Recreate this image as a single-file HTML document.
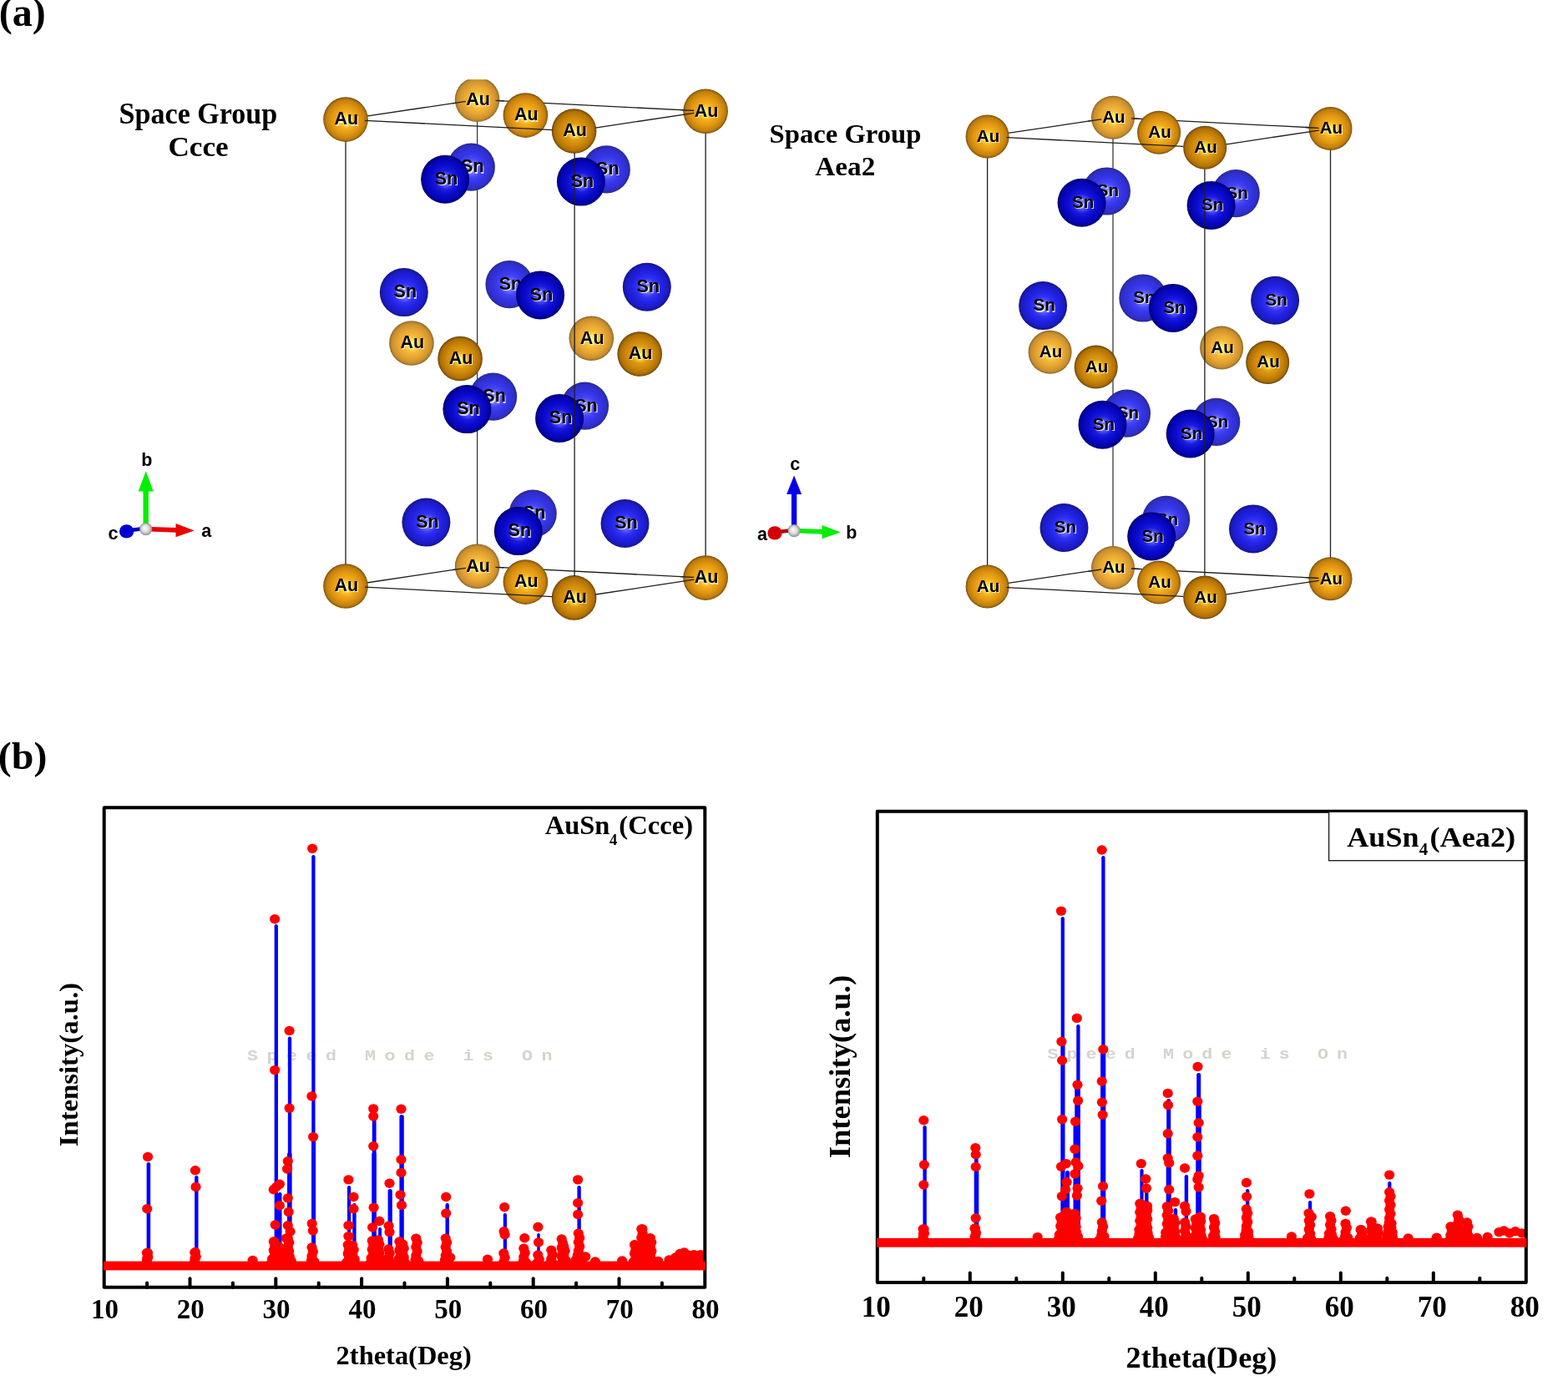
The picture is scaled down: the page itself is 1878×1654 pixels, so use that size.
<!DOCTYPE html>
<html lang="en"><head><meta charset="utf-8"><title>AuSn4 crystal structures and XRD patterns</title>
<style>html,body{margin:0;padding:0;background:#fff}body{width:1878px;height:1654px;overflow:hidden}svg{display:block}
.sb{font-family:"Liberation Serif", serif;font-weight:700;fill:#000}
.al{font-family:"Liberation Sans", sans-serif;font-weight:700;text-anchor:middle}
.gl{font-family:"Liberation Sans", sans-serif;font-weight:700;font-size:21.5px;text-anchor:middle;fill:#000}
</style></head><body>
<svg width="1878" height="1654" viewBox="0 0 1878 1654" role="img" aria-label="AuSn4 crystal structures (Ccce, Aea2) and simulated XRD patterns">
<defs><radialGradient id="aun" cx="0.5" cy="0.5" r="0.5" fx="0.52" fy="0.53"><stop offset="0" stop-color="#fffc78"/><stop offset="0.18" stop-color="#ffdc3c"/><stop offset="0.38" stop-color="#de9b14"/><stop offset="0.64" stop-color="#cc8709"/><stop offset="0.88" stop-color="#af6f05"/><stop offset="0.955" stop-color="#8a5704"/><stop offset="1" stop-color="#5b3a02"/></radialGradient><radialGradient id="snn" cx="0.5" cy="0.5" r="0.5" fx="0.52" fy="0.53"><stop offset="0" stop-color="#aaaaff"/><stop offset="0.18" stop-color="#6060ff"/><stop offset="0.4" stop-color="#1b1be0"/><stop offset="0.62" stop-color="#0b0bce"/><stop offset="0.86" stop-color="#0404b1"/><stop offset="0.955" stop-color="#00008e"/><stop offset="1" stop-color="#00005b"/></radialGradient><radialGradient id="aum" cx="0.5" cy="0.5" r="0.5" fx="0.52" fy="0.53"><stop offset="0" stop-color="#fffc7c"/><stop offset="0.18" stop-color="#ffdd42"/><stop offset="0.38" stop-color="#f4ad1d"/><stop offset="0.64" stop-color="#e19711"/><stop offset="0.88" stop-color="#c27e0d"/><stop offset="0.955" stop-color="#9b650c"/><stop offset="1" stop-color="#69460a"/></radialGradient><radialGradient id="snm" cx="0.5" cy="0.5" r="0.5" fx="0.52" fy="0.53"><stop offset="0" stop-color="#b2b2ff"/><stop offset="0.18" stop-color="#6e6eff"/><stop offset="0.4" stop-color="#3232f7"/><stop offset="0.62" stop-color="#2222e5"/><stop offset="0.86" stop-color="#1b1bc7"/><stop offset="0.955" stop-color="#1717a5"/><stop offset="1" stop-color="#171772"/></radialGradient><radialGradient id="auf" cx="0.5" cy="0.5" r="0.5" fx="0.52" fy="0.53"><stop offset="0" stop-color="#fffc8e"/><stop offset="0.18" stop-color="#ffe25b"/><stop offset="0.38" stop-color="#f6b83b"/><stop offset="0.64" stop-color="#e5a531"/><stop offset="0.88" stop-color="#ca8f2e"/><stop offset="0.955" stop-color="#a8792c"/><stop offset="1" stop-color="#7d5f2a"/></radialGradient><radialGradient id="snf" cx="0.5" cy="0.5" r="0.5" fx="0.52" fy="0.53"><stop offset="0" stop-color="#b8b8ff"/><stop offset="0.18" stop-color="#7b7bff"/><stop offset="0.4" stop-color="#4444f8"/><stop offset="0.62" stop-color="#3535e7"/><stop offset="0.86" stop-color="#2f2fcc"/><stop offset="0.955" stop-color="#2b2bad"/><stop offset="1" stop-color="#2b2b7e"/></radialGradient><radialGradient id="gy" cx="0.5" cy="0.5" r="0.5" fx="0.4" fy="0.4"><stop offset="0" stop-color="#ffffff"/><stop offset="0.6" stop-color="#d8d8d8"/><stop offset="1" stop-color="#8c8c8c"/></radialGradient></defs>
<rect width="1878" height="1654" fill="#fff"/>
<text x="-1.2" y="31.1" class="sb" font-size="48">(a)</text>
<text x="-2.2" y="921" class="sb" font-size="46.4" textLength="58.6" lengthAdjust="spacingAndGlyphs">(b)</text>
<text x="142.6" y="147.7" class="sb" font-size="34.8" textLength="189.6" lengthAdjust="spacingAndGlyphs">Space Group</text>
<text x="201.4" y="186.6" class="sb" font-size="34.4" textLength="72.3" lengthAdjust="spacingAndGlyphs">Ccce</text>
<text x="921.6" y="170.6" class="sb" font-size="32.5" textLength="181.8" lengthAdjust="spacingAndGlyphs">Space Group</text>
<text x="976.3" y="209.6" class="sb" font-size="32.5" textLength="72" lengthAdjust="spacingAndGlyphs">Aea2</text>
<clipPath id="clipL"><rect x="100" y="95.3" width="800" height="660"/></clipPath>
<g id="cell-ccce" clip-path="url(#clipL)"><line x1="571.6" y1="139.3" x2="571.6" y2="658.2" stroke="#3a3a3a" stroke-width="1.3"/><line x1="439.0" y1="139.1" x2="571.6" y2="119.3" stroke="#1e1e1e" stroke-width="1.3"/><line x1="571.6" y1="119.3" x2="845.1" y2="133.2" stroke="#1e1e1e" stroke-width="1.3"/><line x1="439.0" y1="698.0" x2="571.6" y2="678.2" stroke="#1e1e1e" stroke-width="1.3"/><line x1="571.6" y1="678.2" x2="845.1" y2="692.1" stroke="#1e1e1e" stroke-width="1.3"/><line x1="414.0" y1="163.1" x2="414.0" y2="682.0" stroke="#1e1e1e" stroke-width="1.3"/><line x1="845.1" y1="153.2" x2="845.1" y2="672.1" stroke="#1e1e1e" stroke-width="1.3"/><circle cx="571.6" cy="119.3" r="26.8" fill="url(#auf)"/><text x="573.6" y="126.7" class="al" font-size="21.5" fill="#fff" fill-opacity="0.8">Au</text><text x="572.5" y="125.6" class="al" font-size="21.5">Au</text><circle cx="571.6" cy="678.2" r="26.8" fill="url(#auf)"/><text x="573.6" y="685.6" class="al" font-size="21.5" fill="#fff" fill-opacity="0.8">Au</text><text x="572.5" y="684.5" class="al" font-size="21.5">Au</text><circle cx="564.3" cy="200.1" r="28.6" fill="url(#snf)"/><text x="566.9" y="207.5" class="al" font-size="21.5" fill="#fff" fill-opacity="0.8">Sn</text><text x="565.8" y="206.4" class="al" font-size="21.5">Sn</text><circle cx="726.3" cy="202.9" r="28.6" fill="url(#snf)"/><text x="728.9" y="210.3" class="al" font-size="21.5" fill="#fff" fill-opacity="0.8">Sn</text><text x="727.8" y="209.2" class="al" font-size="21.5">Sn</text><circle cx="610.0" cy="340.6" r="28.6" fill="url(#snf)"/><text x="612.6" y="348.0" class="al" font-size="21.5" fill="#fff" fill-opacity="0.8">Sn</text><text x="611.5" y="346.9" class="al" font-size="21.5">Sn</text><circle cx="590.6" cy="475.1" r="28.6" fill="url(#snf)"/><text x="593.2" y="482.5" class="al" font-size="21.5" fill="#fff" fill-opacity="0.8">Sn</text><text x="592.1" y="481.4" class="al" font-size="21.5">Sn</text><circle cx="700.5" cy="486.2" r="28.6" fill="url(#snf)"/><text x="703.1" y="493.6" class="al" font-size="21.5" fill="#fff" fill-opacity="0.8">Sn</text><text x="702.0" y="492.5" class="al" font-size="21.5">Sn</text><circle cx="638.2" cy="615.1" r="28.6" fill="url(#snf)"/><text x="640.8" y="622.5" class="al" font-size="21.5" fill="#fff" fill-opacity="0.8">Sn</text><text x="639.7" y="621.4" class="al" font-size="21.5">Sn</text><circle cx="492.9" cy="411.0" r="26.8" fill="url(#auf)"/><text x="494.9" y="418.4" class="al" font-size="21.5" fill="#fff" fill-opacity="0.8">Au</text><text x="493.8" y="417.3" class="al" font-size="21.5">Au</text><circle cx="708.3" cy="405.2" r="26.8" fill="url(#auf)"/><text x="710.3" y="412.6" class="al" font-size="21.5" fill="#fff" fill-opacity="0.8">Au</text><text x="709.2" y="411.5" class="al" font-size="21.5">Au</text><circle cx="629.4" cy="138.1" r="26.8" fill="url(#aum)"/><text x="631.4" y="145.5" class="al" font-size="21.5" fill="#fff" fill-opacity="0.8">Au</text><text x="630.3" y="144.4" class="al" font-size="21.5">Au</text><circle cx="414.0" cy="143.1" r="26.8" fill="url(#aum)"/><text x="416.0" y="150.5" class="al" font-size="21.5" fill="#fff" fill-opacity="0.8">Au</text><text x="414.9" y="149.4" class="al" font-size="21.5">Au</text><circle cx="845.1" cy="133.2" r="26.8" fill="url(#aum)"/><text x="847.1" y="140.6" class="al" font-size="21.5" fill="#fff" fill-opacity="0.8">Au</text><text x="846.0" y="139.5" class="al" font-size="21.5">Au</text><circle cx="629.4" cy="697.1" r="26.8" fill="url(#aum)"/><text x="631.4" y="704.5" class="al" font-size="21.5" fill="#fff" fill-opacity="0.8">Au</text><text x="630.3" y="703.4" class="al" font-size="21.5">Au</text><circle cx="414.0" cy="702.0" r="26.8" fill="url(#aum)"/><text x="416.0" y="709.4" class="al" font-size="21.5" fill="#fff" fill-opacity="0.8">Au</text><text x="414.9" y="708.3" class="al" font-size="21.5">Au</text><circle cx="845.1" cy="692.1" r="26.8" fill="url(#aum)"/><text x="847.1" y="699.5" class="al" font-size="21.5" fill="#fff" fill-opacity="0.8">Au</text><text x="846.0" y="698.4" class="al" font-size="21.5">Au</text><circle cx="483.8" cy="350.1" r="29.0" fill="url(#snm)"/><text x="486.4" y="357.5" class="al" font-size="21.5" fill="#fff" fill-opacity="0.8">Sn</text><text x="485.3" y="356.4" class="al" font-size="21.5">Sn</text><circle cx="774.8" cy="343.7" r="29.0" fill="url(#snm)"/><text x="777.4" y="351.1" class="al" font-size="21.5" fill="#fff" fill-opacity="0.8">Sn</text><text x="776.3" y="350.0" class="al" font-size="21.5">Sn</text><circle cx="510.4" cy="625.6" r="29.0" fill="url(#snm)"/><text x="513.0" y="633.0" class="al" font-size="21.5" fill="#fff" fill-opacity="0.8">Sn</text><text x="511.9" y="631.9" class="al" font-size="21.5">Sn</text><circle cx="748.5" cy="627.0" r="29.0" fill="url(#snm)"/><text x="751.1" y="634.4" class="al" font-size="21.5" fill="#fff" fill-opacity="0.8">Sn</text><text x="750.0" y="633.3" class="al" font-size="21.5">Sn</text><circle cx="551.1" cy="429.5" r="26.8" fill="url(#aun)"/><text x="553.1" y="436.9" class="al" font-size="21.5" fill="#fff" fill-opacity="0.8">Au</text><text x="552.0" y="435.8" class="al" font-size="21.5">Au</text><circle cx="766.2" cy="424.0" r="26.8" fill="url(#aun)"/><text x="768.2" y="431.4" class="al" font-size="21.5" fill="#fff" fill-opacity="0.8">Au</text><text x="767.1" y="430.3" class="al" font-size="21.5">Au</text><circle cx="533.1" cy="214.8" r="29.0" fill="url(#snn)"/><text x="535.7" y="222.2" class="al" font-size="21.5" fill="#fff" fill-opacity="0.8">Sn</text><text x="534.6" y="221.1" class="al" font-size="21.5">Sn</text><circle cx="695.9" cy="217.6" r="29.0" fill="url(#snn)"/><text x="698.5" y="225.0" class="al" font-size="21.5" fill="#fff" fill-opacity="0.8">Sn</text><text x="697.4" y="223.9" class="al" font-size="21.5">Sn</text><circle cx="647.1" cy="353.4" r="29.0" fill="url(#snn)"/><text x="649.7" y="360.8" class="al" font-size="21.5" fill="#fff" fill-opacity="0.8">Sn</text><text x="648.6" y="359.7" class="al" font-size="21.5">Sn</text><circle cx="559.4" cy="490.1" r="29.0" fill="url(#snn)"/><text x="562.0" y="497.5" class="al" font-size="21.5" fill="#fff" fill-opacity="0.8">Sn</text><text x="560.9" y="496.4" class="al" font-size="21.5">Sn</text><circle cx="670.1" cy="500.9" r="29.0" fill="url(#snn)"/><text x="672.7" y="508.3" class="al" font-size="21.5" fill="#fff" fill-opacity="0.8">Sn</text><text x="671.6" y="507.2" class="al" font-size="21.5">Sn</text><circle cx="620.8" cy="636.1" r="29.0" fill="url(#snn)"/><text x="623.4" y="643.5" class="al" font-size="21.5" fill="#fff" fill-opacity="0.8">Sn</text><text x="622.3" y="642.4" class="al" font-size="21.5">Sn</text><circle cx="687.6" cy="157.0" r="26.8" fill="url(#aun)"/><text x="689.6" y="164.4" class="al" font-size="21.5" fill="#fff" fill-opacity="0.8">Au</text><text x="688.5" y="163.3" class="al" font-size="21.5">Au</text><circle cx="687.6" cy="715.9" r="26.8" fill="url(#aun)"/><text x="689.6" y="723.3" class="al" font-size="21.5" fill="#fff" fill-opacity="0.8">Au</text><text x="688.5" y="722.2" class="al" font-size="21.5">Au</text><line x1="437.0" y1="144.3" x2="661.6" y2="155.7" stroke="#1e1e1e" stroke-width="1.3"/><line x1="713.3" y1="153.1" x2="831.3" y2="135.3" stroke="#1e1e1e" stroke-width="1.3"/><line x1="815.1" y1="131.7" x2="831.1" y2="132.5" stroke="#1e1e1e" stroke-width="1.3"/><line x1="541.9" y1="123.8" x2="557.8" y2="121.4" stroke="#1e1e1e" stroke-width="1.3"/><line x1="593.6" y1="120.4" x2="603.6" y2="120.9" stroke="#1e1e1e" stroke-width="1.3"/><line x1="437.0" y1="703.2" x2="661.6" y2="714.6" stroke="#1e1e1e" stroke-width="1.3"/><line x1="713.3" y1="712.0" x2="831.3" y2="694.2" stroke="#1e1e1e" stroke-width="1.3"/><line x1="815.1" y1="690.6" x2="831.1" y2="691.4" stroke="#1e1e1e" stroke-width="1.3"/><line x1="541.9" y1="682.7" x2="557.8" y2="680.3" stroke="#1e1e1e" stroke-width="1.3"/><line x1="593.6" y1="679.3" x2="603.6" y2="679.8" stroke="#1e1e1e" stroke-width="1.3"/><line x1="688.1" y1="183.0" x2="688.1" y2="689.9" stroke="#1e1e1e" stroke-width="1.3"/></g>
<g id="cell-aea2"><line x1="1333.0" y1="160.7" x2="1333.0" y2="659.9" stroke="#3a3a3a" stroke-width="1.3"/><line x1="1207.6" y1="159.4" x2="1333.0" y2="140.7" stroke="#1e1e1e" stroke-width="1.3"/><line x1="1333.0" y1="140.7" x2="1593.5" y2="154.0" stroke="#1e1e1e" stroke-width="1.3"/><line x1="1207.6" y1="698.4" x2="1333.0" y2="679.9" stroke="#1e1e1e" stroke-width="1.3"/><line x1="1333.0" y1="679.9" x2="1593.5" y2="693.2" stroke="#1e1e1e" stroke-width="1.3"/><line x1="1182.6" y1="183.4" x2="1182.6" y2="682.4" stroke="#1e1e1e" stroke-width="1.3"/><line x1="1593.5" y1="174.0" x2="1593.5" y2="673.2" stroke="#1e1e1e" stroke-width="1.3"/><circle cx="1333.0" cy="140.7" r="26.0" fill="url(#auf)"/><text x="1335.0" y="148.1" class="al" font-size="20.6" fill="#fff" fill-opacity="0.8">Au</text><text x="1333.9" y="147.0" class="al" font-size="20.6">Au</text><circle cx="1333.0" cy="679.9" r="26.0" fill="url(#auf)"/><text x="1335.0" y="687.3" class="al" font-size="20.6" fill="#fff" fill-opacity="0.8">Au</text><text x="1333.9" y="686.2" class="al" font-size="20.6">Au</text><circle cx="1325.4" cy="229.0" r="28.6" fill="url(#snf)"/><text x="1328.0" y="236.4" class="al" font-size="20.6" fill="#fff" fill-opacity="0.8">Sn</text><text x="1326.9" y="235.3" class="al" font-size="20.6">Sn</text><circle cx="1480.2" cy="231.7" r="28.6" fill="url(#snf)"/><text x="1482.8" y="239.1" class="al" font-size="20.6" fill="#fff" fill-opacity="0.8">Sn</text><text x="1481.7" y="238.0" class="al" font-size="20.6">Sn</text><circle cx="1368.9" cy="357.0" r="28.6" fill="url(#snf)"/><text x="1371.5" y="364.4" class="al" font-size="20.6" fill="#fff" fill-opacity="0.8">Sn</text><text x="1370.4" y="363.3" class="al" font-size="20.6">Sn</text><circle cx="1349.5" cy="495.1" r="28.6" fill="url(#snf)"/><text x="1352.1" y="502.5" class="al" font-size="20.6" fill="#fff" fill-opacity="0.8">Sn</text><text x="1351.0" y="501.4" class="al" font-size="20.6">Sn</text><circle cx="1456.7" cy="505.3" r="28.6" fill="url(#snf)"/><text x="1459.3" y="512.7" class="al" font-size="20.6" fill="#fff" fill-opacity="0.8">Sn</text><text x="1458.2" y="511.6" class="al" font-size="20.6">Sn</text><circle cx="1396.6" cy="622.3" r="28.6" fill="url(#snf)"/><text x="1399.2" y="629.7" class="al" font-size="20.6" fill="#fff" fill-opacity="0.8">Sn</text><text x="1398.1" y="628.6" class="al" font-size="20.6">Sn</text><circle cx="1257.6" cy="421.8" r="26.0" fill="url(#auf)"/><text x="1259.6" y="429.2" class="al" font-size="20.6" fill="#fff" fill-opacity="0.8">Au</text><text x="1258.5" y="428.1" class="al" font-size="20.6">Au</text><circle cx="1463.1" cy="416.5" r="26.0" fill="url(#auf)"/><text x="1465.1" y="423.9" class="al" font-size="20.6" fill="#fff" fill-opacity="0.8">Au</text><text x="1464.0" y="422.8" class="al" font-size="20.6">Au</text><circle cx="1388.1" cy="158.7" r="26.0" fill="url(#aum)"/><text x="1390.1" y="166.1" class="al" font-size="20.6" fill="#fff" fill-opacity="0.8">Au</text><text x="1389.0" y="165.0" class="al" font-size="20.6">Au</text><circle cx="1182.6" cy="163.4" r="26.0" fill="url(#aum)"/><text x="1184.6" y="170.8" class="al" font-size="20.6" fill="#fff" fill-opacity="0.8">Au</text><text x="1183.5" y="169.7" class="al" font-size="20.6">Au</text><circle cx="1593.5" cy="154.0" r="26.0" fill="url(#aum)"/><text x="1595.5" y="161.4" class="al" font-size="20.6" fill="#fff" fill-opacity="0.8">Au</text><text x="1594.4" y="160.3" class="al" font-size="20.6">Au</text><circle cx="1388.1" cy="697.6" r="26.0" fill="url(#aum)"/><text x="1390.1" y="705.0" class="al" font-size="20.6" fill="#fff" fill-opacity="0.8">Au</text><text x="1389.0" y="703.9" class="al" font-size="20.6">Au</text><circle cx="1182.6" cy="702.4" r="26.0" fill="url(#aum)"/><text x="1184.6" y="709.8" class="al" font-size="20.6" fill="#fff" fill-opacity="0.8">Au</text><text x="1183.5" y="708.7" class="al" font-size="20.6">Au</text><circle cx="1593.5" cy="693.2" r="26.0" fill="url(#aum)"/><text x="1595.5" y="700.6" class="al" font-size="20.6" fill="#fff" fill-opacity="0.8">Au</text><text x="1594.4" y="699.5" class="al" font-size="20.6">Au</text><circle cx="1249.1" cy="366.1" r="29.0" fill="url(#snm)"/><text x="1251.7" y="373.5" class="al" font-size="20.6" fill="#fff" fill-opacity="0.8">Sn</text><text x="1250.6" y="372.4" class="al" font-size="20.6">Sn</text><circle cx="1527.1" cy="359.8" r="29.0" fill="url(#snm)"/><text x="1529.7" y="367.2" class="al" font-size="20.6" fill="#fff" fill-opacity="0.8">Sn</text><text x="1528.6" y="366.1" class="al" font-size="20.6">Sn</text><circle cx="1274.5" cy="632.0" r="29.0" fill="url(#snm)"/><text x="1277.1" y="639.4" class="al" font-size="20.6" fill="#fff" fill-opacity="0.8">Sn</text><text x="1276.0" y="638.3" class="al" font-size="20.6">Sn</text><circle cx="1501.0" cy="633.4" r="29.0" fill="url(#snm)"/><text x="1503.6" y="640.8" class="al" font-size="20.6" fill="#fff" fill-opacity="0.8">Sn</text><text x="1502.5" y="639.7" class="al" font-size="20.6">Sn</text><circle cx="1312.7" cy="439.5" r="26.0" fill="url(#aun)"/><text x="1314.7" y="446.9" class="al" font-size="20.6" fill="#fff" fill-opacity="0.8">Au</text><text x="1313.6" y="445.8" class="al" font-size="20.6">Au</text><circle cx="1518.2" cy="434.0" r="26.0" fill="url(#aun)"/><text x="1520.2" y="441.4" class="al" font-size="20.6" fill="#fff" fill-opacity="0.8">Au</text><text x="1519.1" y="440.3" class="al" font-size="20.6">Au</text><circle cx="1295.6" cy="242.8" r="29.0" fill="url(#snn)"/><text x="1298.2" y="250.2" class="al" font-size="20.6" fill="#fff" fill-opacity="0.8">Sn</text><text x="1297.1" y="249.1" class="al" font-size="20.6">Sn</text><circle cx="1450.6" cy="245.9" r="29.0" fill="url(#snn)"/><text x="1453.2" y="253.3" class="al" font-size="20.6" fill="#fff" fill-opacity="0.8">Sn</text><text x="1452.1" y="252.2" class="al" font-size="20.6">Sn</text><circle cx="1405.0" cy="368.9" r="29.0" fill="url(#snn)"/><text x="1407.6" y="376.3" class="al" font-size="20.6" fill="#fff" fill-opacity="0.8">Sn</text><text x="1406.5" y="375.2" class="al" font-size="20.6">Sn</text><circle cx="1320.5" cy="508.7" r="29.0" fill="url(#snn)"/><text x="1323.1" y="516.1" class="al" font-size="20.6" fill="#fff" fill-opacity="0.8">Sn</text><text x="1322.0" y="515.0" class="al" font-size="20.6">Sn</text><circle cx="1425.7" cy="519.5" r="29.0" fill="url(#snn)"/><text x="1428.3" y="526.9" class="al" font-size="20.6" fill="#fff" fill-opacity="0.8">Sn</text><text x="1427.2" y="525.8" class="al" font-size="20.6">Sn</text><circle cx="1379.2" cy="642.5" r="29.0" fill="url(#snn)"/><text x="1381.8" y="649.9" class="al" font-size="20.6" fill="#fff" fill-opacity="0.8">Sn</text><text x="1380.7" y="648.8" class="al" font-size="20.6">Sn</text><circle cx="1443.2" cy="176.7" r="26.0" fill="url(#aun)"/><text x="1445.2" y="184.1" class="al" font-size="20.6" fill="#fff" fill-opacity="0.8">Au</text><text x="1444.1" y="183.0" class="al" font-size="20.6">Au</text><circle cx="1443.2" cy="715.6" r="26.0" fill="url(#aun)"/><text x="1445.2" y="723.0" class="al" font-size="20.6" fill="#fff" fill-opacity="0.8">Au</text><text x="1444.1" y="721.9" class="al" font-size="20.6">Au</text><line x1="1205.6" y1="164.6" x2="1417.2" y2="175.4" stroke="#1e1e1e" stroke-width="1.3"/><line x1="1468.9" y1="172.8" x2="1579.7" y2="156.1" stroke="#1e1e1e" stroke-width="1.3"/><line x1="1563.5" y1="152.5" x2="1579.5" y2="153.3" stroke="#1e1e1e" stroke-width="1.3"/><line x1="1303.3" y1="145.2" x2="1319.2" y2="142.8" stroke="#1e1e1e" stroke-width="1.3"/><line x1="1355.0" y1="141.8" x2="1365.0" y2="142.3" stroke="#1e1e1e" stroke-width="1.3"/><line x1="1205.6" y1="703.6" x2="1417.2" y2="714.3" stroke="#1e1e1e" stroke-width="1.3"/><line x1="1468.9" y1="711.8" x2="1579.7" y2="695.3" stroke="#1e1e1e" stroke-width="1.3"/><line x1="1563.5" y1="691.7" x2="1579.5" y2="692.5" stroke="#1e1e1e" stroke-width="1.3"/><line x1="1303.3" y1="684.3" x2="1319.2" y2="682.0" stroke="#1e1e1e" stroke-width="1.3"/><line x1="1355.0" y1="681.0" x2="1365.0" y2="681.5" stroke="#1e1e1e" stroke-width="1.3"/><line x1="1442.9" y1="202.7" x2="1442.9" y2="689.6" stroke="#1e1e1e" stroke-width="1.3"/></g>
<g id="axes-ccce"><line x1="158.7" y1="634.8" x2="170.7" y2="633.3" stroke="#0000b0" stroke-width="4.5" stroke-linecap="round"/><ellipse cx="151.6" cy="636.4" rx="8.6" ry="8.2" fill="#0000d2"/><rect x="171.5" y="587.9" width="6.4" height="40.2" fill="#00ee00"/><polygon points="174.7,564.3 165.7,588.4 183.7,588.4" fill="#00ee00"/><polygon points="179.7,631.0 211.0,632.0 211.0,637.8 179.7,636.6" fill="#ea0000"/><polygon points="210.5,627.0 232.7,635.5 210.5,643.2" fill="#ea0000"/><circle cx="174.7" cy="633.6" r="7.6" fill="url(#gy)"/><text x="175.8" y="558.2" class="gl">b</text><text x="247.2" y="643.4" class="gl">a</text><text x="135.4" y="646.0" class="gl">c</text></g>
<g id="axes-aea2"><line x1="935.1" y1="636.8" x2="947.1" y2="635.3" stroke="#b00000" stroke-width="4.5" stroke-linecap="round"/><ellipse cx="928.0" cy="638.4" rx="8.6" ry="8.2" fill="#d40000"/><rect x="947.9" y="591.5" width="6.4" height="38.6" fill="#0000ea"/><polygon points="951.1,569.4 942.1,592.0 960.1,592.0" fill="#0000ea"/><polygon points="956.1,633.0 985.1,634.0 985.1,639.8 956.1,638.6" fill="#00ee00"/><polygon points="984.6,629.0 1006.8,637.5 984.6,645.2" fill="#00ee00"/><circle cx="951.1" cy="635.6" r="7.6" fill="url(#gy)"/><text x="952.2" y="562.7" class="gl">c</text><text x="1019.9" y="645.2" class="gl">b</text><text x="913.1" y="647.3" class="gl">a</text></g>
<g id="xrd-ccce"><text transform="translate(296.1,1269.8) scale(1.14,1)" x="0" y="0" font-family='"Liberation Mono", monospace' font-size="19" font-weight="700" fill="#d6d3cc" textLength="320.6" lengthAdjust="spacing" xml:space="preserve">Speed Mode is On</text><line x1="177.9" y1="1394.3" x2="177.9" y2="1516.0" stroke="#0000ff" stroke-width="4.6" stroke-linecap="round"/><line x1="235.3" y1="1410.2" x2="235.3" y2="1516.0" stroke="#0000ff" stroke-width="4.4" stroke-linecap="round"/><line x1="330.8" y1="1109.2" x2="330.8" y2="1516.0" stroke="#0000ff" stroke-width="4.3" stroke-linecap="round"/><line x1="335.2" y1="1430.3" x2="335.2" y2="1516.0" stroke="#0000ff" stroke-width="4.6" stroke-linecap="round"/><line x1="332.5" y1="1458.5" x2="332.5" y2="1516.0" stroke="#0000ff" stroke-width="7" stroke-linecap="round"/><line x1="347.0" y1="1243.7" x2="347.0" y2="1516.0" stroke="#0000ff" stroke-width="4.3" stroke-linecap="round"/><line x1="346.8" y1="1382.8" x2="346.8" y2="1516.0" stroke="#0000ff" stroke-width="5.5" stroke-linecap="round"/><line x1="375.4" y1="1026.2" x2="375.4" y2="1516.0" stroke="#0000ff" stroke-width="4.3" stroke-linecap="round"/><line x1="375.6" y1="1364.5" x2="375.6" y2="1516.0" stroke="#0000ff" stroke-width="5" stroke-linecap="round"/><line x1="418.1" y1="1422.1" x2="418.1" y2="1516.0" stroke="#0000ff" stroke-width="4.2" stroke-linecap="round"/><line x1="424.4" y1="1443.2" x2="424.4" y2="1516.0" stroke="#0000ff" stroke-width="4.4" stroke-linecap="round"/><line x1="448.2" y1="1336.4" x2="448.2" y2="1516.0" stroke="#0000ff" stroke-width="4.8" stroke-linecap="round"/><line x1="448.0" y1="1382.7" x2="448.0" y2="1516.0" stroke="#0000ff" stroke-width="5.4" stroke-linecap="round"/><line x1="455.1" y1="1472.0" x2="455.1" y2="1516.0" stroke="#0000ff" stroke-width="4" stroke-linecap="round"/><line x1="467.2" y1="1426.6" x2="467.2" y2="1516.0" stroke="#0000ff" stroke-width="5.2" stroke-linecap="round"/><line x1="481.1" y1="1337.7" x2="481.1" y2="1516.0" stroke="#0000ff" stroke-width="5.4" stroke-linecap="round"/><line x1="535.7" y1="1443.2" x2="535.7" y2="1516.0" stroke="#0000ff" stroke-width="4.4" stroke-linecap="round"/><line x1="604.9" y1="1455.1" x2="604.9" y2="1516.0" stroke="#0000ff" stroke-width="4.2" stroke-linecap="round"/><line x1="645.0" y1="1478.8" x2="645.0" y2="1516.0" stroke="#0000ff" stroke-width="3.5" stroke-linecap="round"/><line x1="693.6" y1="1422.2" x2="693.6" y2="1516.0" stroke="#0000ff" stroke-width="4.4" stroke-linecap="round"/><g fill="#ff0000"><ellipse cx="177.0" cy="1385.5" rx="6.1" ry="5.7"/><ellipse cx="176.2" cy="1447.8" rx="6.1" ry="5.7"/><ellipse cx="177.0" cy="1500.5" rx="6.1" ry="5.7"/><ellipse cx="176.2" cy="1507.0" rx="6.1" ry="5.7"/><ellipse cx="233.9" cy="1401.8" rx="6.1" ry="5.7"/><ellipse cx="234.5" cy="1421.5" rx="6.1" ry="5.7"/><ellipse cx="233.9" cy="1499.7" rx="6.1" ry="5.7"/><ellipse cx="233.5" cy="1507.0" rx="6.1" ry="5.7"/><ellipse cx="302.6" cy="1509.5" rx="6.1" ry="5.7"/><ellipse cx="329.1" cy="1100.7" rx="6.1" ry="5.7"/><ellipse cx="329.1" cy="1281.6" rx="6.1" ry="5.7"/><ellipse cx="327.7" cy="1424.7" rx="6.1" ry="5.7"/><ellipse cx="330.9" cy="1421.5" rx="6.1" ry="5.7"/><ellipse cx="334.9" cy="1418.3" rx="6.1" ry="5.7"/><ellipse cx="334.9" cy="1443.8" rx="6.1" ry="5.7"/><ellipse cx="329.7" cy="1467.0" rx="6.1" ry="5.7"/><ellipse cx="328.5" cy="1487.0" rx="6.1" ry="5.7"/><ellipse cx="346.6" cy="1234.5" rx="6.1" ry="5.7"/><ellipse cx="346.6" cy="1327.1" rx="6.1" ry="5.7"/><ellipse cx="344.8" cy="1390.8" rx="6.1" ry="5.7"/><ellipse cx="344.0" cy="1400.0" rx="6.1" ry="5.7"/><ellipse cx="344.8" cy="1435.0" rx="6.1" ry="5.7"/><ellipse cx="345.7" cy="1451.5" rx="6.1" ry="5.7"/><ellipse cx="344.8" cy="1467.8" rx="6.1" ry="5.7"/><ellipse cx="347.6" cy="1475.0" rx="6.1" ry="5.7"/><ellipse cx="342.8" cy="1483.0" rx="6.1" ry="5.7"/><ellipse cx="374.1" cy="1016.3" rx="6.1" ry="5.7"/><ellipse cx="373.4" cy="1312.9" rx="6.1" ry="5.7"/><ellipse cx="375.1" cy="1361.6" rx="6.1" ry="5.7"/><ellipse cx="373.7" cy="1465.4" rx="6.1" ry="5.7"/><ellipse cx="374.8" cy="1473.9" rx="6.1" ry="5.7"/><ellipse cx="417.4" cy="1412.9" rx="6.1" ry="5.7"/><ellipse cx="417.4" cy="1467.6" rx="6.1" ry="5.7"/><ellipse cx="417.4" cy="1480.6" rx="6.1" ry="5.7"/><ellipse cx="423.5" cy="1433.5" rx="6.1" ry="5.7"/><ellipse cx="423.5" cy="1447.7" rx="6.1" ry="5.7"/><ellipse cx="447.2" cy="1327.9" rx="6.1" ry="5.7"/><ellipse cx="447.2" cy="1337.0" rx="6.1" ry="5.7"/><ellipse cx="447.2" cy="1372.8" rx="6.1" ry="5.7"/><ellipse cx="447.6" cy="1446.3" rx="6.1" ry="5.7"/><ellipse cx="446.1" cy="1470.0" rx="6.1" ry="5.7"/><ellipse cx="454.4" cy="1462.5" rx="6.1" ry="5.7"/><ellipse cx="466.5" cy="1417.2" rx="6.1" ry="5.7"/><ellipse cx="465.6" cy="1468.3" rx="6.1" ry="5.7"/><ellipse cx="466.5" cy="1475.6" rx="6.1" ry="5.7"/><ellipse cx="480.5" cy="1328.3" rx="6.1" ry="5.7"/><ellipse cx="480.5" cy="1388.8" rx="6.1" ry="5.7"/><ellipse cx="480.5" cy="1404.5" rx="6.1" ry="5.7"/><ellipse cx="479.5" cy="1430.9" rx="6.1" ry="5.7"/><ellipse cx="481.0" cy="1443.4" rx="6.1" ry="5.7"/><ellipse cx="534.2" cy="1433.5" rx="6.1" ry="5.7"/><ellipse cx="534.2" cy="1453.1" rx="6.1" ry="5.7"/><ellipse cx="539.3" cy="1506.0" rx="6.1" ry="5.7"/><ellipse cx="584.0" cy="1508.3" rx="6.1" ry="5.7"/><ellipse cx="604.2" cy="1445.8" rx="6.1" ry="5.7"/><ellipse cx="603.6" cy="1474.8" rx="6.1" ry="5.7"/><ellipse cx="604.6" cy="1478.8" rx="6.1" ry="5.7"/><ellipse cx="628.3" cy="1482.8" rx="6.1" ry="5.7"/><ellipse cx="644.4" cy="1469.5" rx="6.1" ry="5.7"/><ellipse cx="645.0" cy="1487.9" rx="6.1" ry="5.7"/><ellipse cx="692.1" cy="1412.9" rx="6.1" ry="5.7"/><ellipse cx="692.1" cy="1440.7" rx="6.1" ry="5.7"/><ellipse cx="692.1" cy="1454.5" rx="6.1" ry="5.7"/><ellipse cx="701.3" cy="1505.0" rx="6.1" ry="5.7"/><ellipse cx="712.9" cy="1511.0" rx="6.1" ry="5.7"/><ellipse cx="745.1" cy="1510.0" rx="6.1" ry="5.7"/><ellipse cx="769.4" cy="1471.9" rx="6.1" ry="5.7"/><ellipse cx="788.3" cy="1510.4" rx="6.1" ry="5.7"/><ellipse cx="801.4" cy="1509.0" rx="6.1" ry="5.7"/><ellipse cx="814.4" cy="1501.5" rx="6.1" ry="5.7"/><ellipse cx="819.5" cy="1500.0" rx="6.1" ry="5.7"/><ellipse cx="825.0" cy="1503.5" rx="6.1" ry="5.7"/><ellipse cx="831.1" cy="1502.8" rx="6.1" ry="5.7"/><ellipse cx="839.1" cy="1502.8" rx="6.1" ry="5.7"/><ellipse cx="835.0" cy="1504.0" rx="6.1" ry="5.7"/><ellipse cx="811.0" cy="1507.5" rx="6.1" ry="5.7"/><ellipse cx="816.0" cy="1507.5" rx="6.1" ry="5.7"/><ellipse cx="821.0" cy="1507.5" rx="6.1" ry="5.7"/><ellipse cx="826.0" cy="1507.5" rx="6.1" ry="5.7"/><ellipse cx="831.0" cy="1507.5" rx="6.1" ry="5.7"/><ellipse cx="836.0" cy="1507.5" rx="6.1" ry="5.7"/><ellipse cx="840.0" cy="1507.5" rx="6.1" ry="5.7"/><ellipse cx="809.0" cy="1506.0" rx="6.1" ry="5.7"/><ellipse cx="175.9" cy="1500.5" rx="6.1" ry="5.7"/><ellipse cx="177.3" cy="1505.7" rx="6.1" ry="5.7"/><ellipse cx="175.9" cy="1510.9" rx="6.1" ry="5.7"/><ellipse cx="233.3" cy="1500.0" rx="6.1" ry="5.7"/><ellipse cx="234.7" cy="1505.2" rx="6.1" ry="5.7"/><ellipse cx="233.3" cy="1510.4" rx="6.1" ry="5.7"/><ellipse cx="327.8" cy="1487.0" rx="6.1" ry="5.7"/><ellipse cx="329.2" cy="1492.2" rx="6.1" ry="5.7"/><ellipse cx="327.8" cy="1497.4" rx="6.1" ry="5.7"/><ellipse cx="329.2" cy="1502.6" rx="6.1" ry="5.7"/><ellipse cx="326.0" cy="1507.8" rx="6.1" ry="5.7"/><ellipse cx="330.3" cy="1509.0" rx="6.1" ry="5.7"/><ellipse cx="325.1" cy="1513.0" rx="6.1" ry="5.7"/><ellipse cx="332.6" cy="1514.2" rx="6.1" ry="5.7"/><ellipse cx="333.8" cy="1493.0" rx="6.1" ry="5.7"/><ellipse cx="335.2" cy="1498.2" rx="6.1" ry="5.7"/><ellipse cx="333.8" cy="1503.4" rx="6.1" ry="5.7"/><ellipse cx="335.2" cy="1508.6" rx="6.1" ry="5.7"/><ellipse cx="331.8" cy="1513.8" rx="6.1" ry="5.7"/><ellipse cx="336.5" cy="1515.0" rx="6.1" ry="5.7"/><ellipse cx="344.8" cy="1483.0" rx="6.1" ry="5.7"/><ellipse cx="346.2" cy="1488.2" rx="6.1" ry="5.7"/><ellipse cx="344.8" cy="1493.4" rx="6.1" ry="5.7"/><ellipse cx="346.2" cy="1498.6" rx="6.1" ry="5.7"/><ellipse cx="343.5" cy="1503.8" rx="6.1" ry="5.7"/><ellipse cx="346.8" cy="1505.0" rx="6.1" ry="5.7"/><ellipse cx="342.9" cy="1509.0" rx="6.1" ry="5.7"/><ellipse cx="348.8" cy="1510.2" rx="6.1" ry="5.7"/><ellipse cx="373.5" cy="1494.0" rx="6.1" ry="5.7"/><ellipse cx="374.9" cy="1499.2" rx="6.1" ry="5.7"/><ellipse cx="373.5" cy="1504.4" rx="6.1" ry="5.7"/><ellipse cx="372.9" cy="1509.6" rx="6.1" ry="5.7"/><ellipse cx="376.2" cy="1510.8" rx="6.1" ry="5.7"/><ellipse cx="416.7" cy="1491.0" rx="6.1" ry="5.7"/><ellipse cx="418.1" cy="1496.2" rx="6.1" ry="5.7"/><ellipse cx="416.7" cy="1501.4" rx="6.1" ry="5.7"/><ellipse cx="418.1" cy="1506.6" rx="6.1" ry="5.7"/><ellipse cx="415.2" cy="1511.8" rx="6.1" ry="5.7"/><ellipse cx="418.9" cy="1513.0" rx="6.1" ry="5.7"/><ellipse cx="422.3" cy="1491.5" rx="6.1" ry="5.7"/><ellipse cx="423.7" cy="1496.7" rx="6.1" ry="5.7"/><ellipse cx="422.3" cy="1501.9" rx="6.1" ry="5.7"/><ellipse cx="422.0" cy="1507.1" rx="6.1" ry="5.7"/><ellipse cx="424.7" cy="1508.3" rx="6.1" ry="5.7"/><ellipse cx="419.7" cy="1512.3" rx="6.1" ry="5.7"/><ellipse cx="425.6" cy="1513.5" rx="6.1" ry="5.7"/><ellipse cx="445.8" cy="1486.0" rx="6.1" ry="5.7"/><ellipse cx="447.2" cy="1491.2" rx="6.1" ry="5.7"/><ellipse cx="445.8" cy="1496.4" rx="6.1" ry="5.7"/><ellipse cx="447.2" cy="1501.6" rx="6.1" ry="5.7"/><ellipse cx="444.6" cy="1506.8" rx="6.1" ry="5.7"/><ellipse cx="447.7" cy="1508.0" rx="6.1" ry="5.7"/><ellipse cx="444.1" cy="1512.0" rx="6.1" ry="5.7"/><ellipse cx="449.6" cy="1513.2" rx="6.1" ry="5.7"/><ellipse cx="453.0" cy="1485.0" rx="6.1" ry="5.7"/><ellipse cx="454.4" cy="1490.2" rx="6.1" ry="5.7"/><ellipse cx="453.0" cy="1495.4" rx="6.1" ry="5.7"/><ellipse cx="454.4" cy="1500.6" rx="6.1" ry="5.7"/><ellipse cx="451.9" cy="1505.8" rx="6.1" ry="5.7"/><ellipse cx="454.8" cy="1507.0" rx="6.1" ry="5.7"/><ellipse cx="451.5" cy="1511.0" rx="6.1" ry="5.7"/><ellipse cx="456.6" cy="1512.2" rx="6.1" ry="5.7"/><ellipse cx="465.3" cy="1496.0" rx="6.1" ry="5.7"/><ellipse cx="466.7" cy="1501.2" rx="6.1" ry="5.7"/><ellipse cx="465.3" cy="1506.4" rx="6.1" ry="5.7"/><ellipse cx="464.5" cy="1511.6" rx="6.1" ry="5.7"/><ellipse cx="468.2" cy="1512.8" rx="6.1" ry="5.7"/><ellipse cx="478.4" cy="1487.0" rx="6.1" ry="5.7"/><ellipse cx="479.8" cy="1492.2" rx="6.1" ry="5.7"/><ellipse cx="478.4" cy="1497.4" rx="6.1" ry="5.7"/><ellipse cx="479.8" cy="1502.6" rx="6.1" ry="5.7"/><ellipse cx="477.5" cy="1507.8" rx="6.1" ry="5.7"/><ellipse cx="480.0" cy="1509.0" rx="6.1" ry="5.7"/><ellipse cx="477.2" cy="1513.0" rx="6.1" ry="5.7"/><ellipse cx="481.7" cy="1514.2" rx="6.1" ry="5.7"/><ellipse cx="482.3" cy="1490.0" rx="6.1" ry="5.7"/><ellipse cx="483.7" cy="1495.2" rx="6.1" ry="5.7"/><ellipse cx="482.3" cy="1500.4" rx="6.1" ry="5.7"/><ellipse cx="483.7" cy="1505.6" rx="6.1" ry="5.7"/><ellipse cx="480.4" cy="1510.8" rx="6.1" ry="5.7"/><ellipse cx="484.9" cy="1512.0" rx="6.1" ry="5.7"/><ellipse cx="498.3" cy="1483.1" rx="6.1" ry="5.7"/><ellipse cx="499.7" cy="1488.3" rx="6.1" ry="5.7"/><ellipse cx="498.3" cy="1493.5" rx="6.1" ry="5.7"/><ellipse cx="499.7" cy="1498.7" rx="6.1" ry="5.7"/><ellipse cx="498.3" cy="1503.9" rx="6.1" ry="5.7"/><ellipse cx="497.5" cy="1509.1" rx="6.1" ry="5.7"/><ellipse cx="501.2" cy="1510.3" rx="6.1" ry="5.7"/><ellipse cx="533.7" cy="1483.1" rx="6.1" ry="5.7"/><ellipse cx="535.1" cy="1488.3" rx="6.1" ry="5.7"/><ellipse cx="533.7" cy="1493.5" rx="6.1" ry="5.7"/><ellipse cx="535.1" cy="1498.7" rx="6.1" ry="5.7"/><ellipse cx="533.7" cy="1503.9" rx="6.1" ry="5.7"/><ellipse cx="532.9" cy="1509.1" rx="6.1" ry="5.7"/><ellipse cx="536.6" cy="1510.3" rx="6.1" ry="5.7"/><ellipse cx="603.3" cy="1501.0" rx="6.1" ry="5.7"/><ellipse cx="604.7" cy="1506.2" rx="6.1" ry="5.7"/><ellipse cx="603.3" cy="1511.4" rx="6.1" ry="5.7"/><ellipse cx="627.3" cy="1495.2" rx="6.1" ry="5.7"/><ellipse cx="628.7" cy="1500.4" rx="6.1" ry="5.7"/><ellipse cx="627.3" cy="1505.6" rx="6.1" ry="5.7"/><ellipse cx="626.7" cy="1510.8" rx="6.1" ry="5.7"/><ellipse cx="630.0" cy="1512.0" rx="6.1" ry="5.7"/><ellipse cx="644.3" cy="1503.0" rx="6.1" ry="5.7"/><ellipse cx="645.7" cy="1508.2" rx="6.1" ry="5.7"/><ellipse cx="642.7" cy="1513.4" rx="6.1" ry="5.7"/><ellipse cx="646.6" cy="1514.6" rx="6.1" ry="5.7"/><ellipse cx="660.3" cy="1497.3" rx="6.1" ry="5.7"/><ellipse cx="661.7" cy="1502.5" rx="6.1" ry="5.7"/><ellipse cx="660.3" cy="1507.7" rx="6.1" ry="5.7"/><ellipse cx="659.2" cy="1512.9" rx="6.1" ry="5.7"/><ellipse cx="663.5" cy="1514.1" rx="6.1" ry="5.7"/><ellipse cx="672.7" cy="1484.0" rx="6.1" ry="5.7"/><ellipse cx="674.1" cy="1489.2" rx="6.1" ry="5.7"/><ellipse cx="672.7" cy="1494.4" rx="6.1" ry="5.7"/><ellipse cx="674.1" cy="1499.6" rx="6.1" ry="5.7"/><ellipse cx="672.7" cy="1504.8" rx="6.1" ry="5.7"/><ellipse cx="674.1" cy="1510.0" rx="6.1" ry="5.7"/><ellipse cx="675.3" cy="1493.0" rx="6.1" ry="5.7"/><ellipse cx="676.7" cy="1498.2" rx="6.1" ry="5.7"/><ellipse cx="675.3" cy="1503.4" rx="6.1" ry="5.7"/><ellipse cx="674.7" cy="1508.6" rx="6.1" ry="5.7"/><ellipse cx="678.0" cy="1509.8" rx="6.1" ry="5.7"/><ellipse cx="672.2" cy="1513.8" rx="6.1" ry="5.7"/><ellipse cx="679.1" cy="1515.0" rx="6.1" ry="5.7"/><ellipse cx="692.8" cy="1477.3" rx="6.1" ry="5.7"/><ellipse cx="694.2" cy="1482.5" rx="6.1" ry="5.7"/><ellipse cx="692.8" cy="1487.7" rx="6.1" ry="5.7"/><ellipse cx="694.2" cy="1492.9" rx="6.1" ry="5.7"/><ellipse cx="692.8" cy="1498.1" rx="6.1" ry="5.7"/><ellipse cx="691.9" cy="1503.3" rx="6.1" ry="5.7"/><ellipse cx="695.8" cy="1504.5" rx="6.1" ry="5.7"/><ellipse cx="690.0" cy="1508.5" rx="6.1" ry="5.7"/><ellipse cx="696.3" cy="1509.7" rx="6.1" ry="5.7"/><ellipse cx="689.2" cy="1513.7" rx="6.1" ry="5.7"/><ellipse cx="698.5" cy="1514.9" rx="6.1" ry="5.7"/><ellipse cx="760.0" cy="1490.8" rx="6.1" ry="5.7"/><ellipse cx="761.4" cy="1496.0" rx="6.1" ry="5.7"/><ellipse cx="760.0" cy="1501.2" rx="6.1" ry="5.7"/><ellipse cx="761.4" cy="1506.4" rx="6.1" ry="5.7"/><ellipse cx="758.5" cy="1511.6" rx="6.1" ry="5.7"/><ellipse cx="762.2" cy="1512.8" rx="6.1" ry="5.7"/><ellipse cx="768.3" cy="1472.0" rx="6.1" ry="5.7"/><ellipse cx="769.7" cy="1477.2" rx="6.1" ry="5.7"/><ellipse cx="768.3" cy="1482.4" rx="6.1" ry="5.7"/><ellipse cx="769.7" cy="1487.6" rx="6.1" ry="5.7"/><ellipse cx="768.3" cy="1492.8" rx="6.1" ry="5.7"/><ellipse cx="769.7" cy="1498.0" rx="6.1" ry="5.7"/><ellipse cx="767.2" cy="1503.2" rx="6.1" ry="5.7"/><ellipse cx="770.1" cy="1504.4" rx="6.1" ry="5.7"/><ellipse cx="767.2" cy="1508.4" rx="6.1" ry="5.7"/><ellipse cx="771.5" cy="1509.6" rx="6.1" ry="5.7"/><ellipse cx="765.6" cy="1513.6" rx="6.1" ry="5.7"/><ellipse cx="771.7" cy="1514.8" rx="6.1" ry="5.7"/><ellipse cx="778.9" cy="1482.8" rx="6.1" ry="5.7"/><ellipse cx="780.3" cy="1488.0" rx="6.1" ry="5.7"/><ellipse cx="778.9" cy="1493.2" rx="6.1" ry="5.7"/><ellipse cx="780.3" cy="1498.4" rx="6.1" ry="5.7"/><ellipse cx="778.9" cy="1503.6" rx="6.1" ry="5.7"/><ellipse cx="778.1" cy="1508.8" rx="6.1" ry="5.7"/><ellipse cx="781.8" cy="1510.0" rx="6.1" ry="5.7"/></g><rect x="124.7" y="967.2" width="719.6" height="574.6" fill="none" stroke="#000" stroke-width="4" stroke-linejoin="round"/><rect x="123.9" y="1510.6" width="721.0" height="10.8" fill="#ff0000"/><line x1="176.1" y1="1541.8" x2="176.1" y2="1536.6" stroke="#000" stroke-width="4" stroke-linecap="round"/><line x1="227.5" y1="1541.8" x2="227.5" y2="1531.2" stroke="#000" stroke-width="4" stroke-linecap="round"/><line x1="278.9" y1="1541.8" x2="278.9" y2="1536.6" stroke="#000" stroke-width="4" stroke-linecap="round"/><line x1="330.3" y1="1541.8" x2="330.3" y2="1531.2" stroke="#000" stroke-width="4" stroke-linecap="round"/><line x1="381.7" y1="1541.8" x2="381.7" y2="1536.6" stroke="#000" stroke-width="4" stroke-linecap="round"/><line x1="433.1" y1="1541.8" x2="433.1" y2="1531.2" stroke="#000" stroke-width="4" stroke-linecap="round"/><line x1="484.5" y1="1541.8" x2="484.5" y2="1536.6" stroke="#000" stroke-width="4" stroke-linecap="round"/><line x1="535.9" y1="1541.8" x2="535.9" y2="1531.2" stroke="#000" stroke-width="4" stroke-linecap="round"/><line x1="587.3" y1="1541.8" x2="587.3" y2="1536.6" stroke="#000" stroke-width="4" stroke-linecap="round"/><line x1="638.7" y1="1541.8" x2="638.7" y2="1531.2" stroke="#000" stroke-width="4" stroke-linecap="round"/><line x1="690.1" y1="1541.8" x2="690.1" y2="1536.6" stroke="#000" stroke-width="4" stroke-linecap="round"/><line x1="741.5" y1="1541.8" x2="741.5" y2="1531.2" stroke="#000" stroke-width="4" stroke-linecap="round"/><line x1="792.9" y1="1541.8" x2="792.9" y2="1536.6" stroke="#000" stroke-width="4" stroke-linecap="round"/><text x="125.5" y="1579.0" class="sb" font-size="33" text-anchor="middle">10</text><text x="228.3" y="1579.0" class="sb" font-size="33" text-anchor="middle">20</text><text x="331.1" y="1579.0" class="sb" font-size="33" text-anchor="middle">30</text><text x="433.9" y="1579.0" class="sb" font-size="33" text-anchor="middle">40</text><text x="536.7" y="1579.0" class="sb" font-size="33" text-anchor="middle">50</text><text x="639.5" y="1579.0" class="sb" font-size="33" text-anchor="middle">60</text><text x="742.3" y="1579.0" class="sb" font-size="33" text-anchor="middle">70</text><text x="845.1" y="1579.0" class="sb" font-size="33" text-anchor="middle">80</text><text x="402.6" y="1633.9" class="sb" font-size="32.6" textLength="162.2" lengthAdjust="spacingAndGlyphs">2theta(Deg)</text><text transform="translate(93.2,1373.2) rotate(-90)" class="sb" font-size="32.6" textLength="196.2" lengthAdjust="spacingAndGlyphs">Intensity(a.u.)</text><text x="652.8" y="998.6" class="sb" font-size="32.3" textLength="77.6" lengthAdjust="spacingAndGlyphs">AuSn</text><text x="730" y="1012" class="sb" font-size="18.5">4</text><text x="741.3" y="998.6" class="sb" font-size="32.3" textLength="88.8" lengthAdjust="spacingAndGlyphs">(Ccce)</text></g>
<g id="xrd-aea2"><text transform="translate(1254.4,1267.7) scale(1.14,1)" x="0" y="0" font-family='"Liberation Mono", monospace' font-size="19" font-weight="700" fill="#d6d3cc" textLength="315.5" lengthAdjust="spacing" xml:space="preserve">Speed Mode is On</text><line x1="1107.6" y1="1350.2" x2="1107.6" y2="1488.3" stroke="#0000ff" stroke-width="4.4" stroke-linecap="round"/><line x1="1169.3" y1="1383.3" x2="1169.3" y2="1488.3" stroke="#0000ff" stroke-width="4.6" stroke-linecap="round"/><line x1="1169.5" y1="1402.8" x2="1169.5" y2="1488.3" stroke="#0000ff" stroke-width="5.6" stroke-linecap="round"/><line x1="1272.8" y1="1100.2" x2="1272.8" y2="1488.3" stroke="#0000ff" stroke-width="4.3" stroke-linecap="round"/><line x1="1273.0" y1="1252.5" x2="1273.0" y2="1488.3" stroke="#0000ff" stroke-width="5" stroke-linecap="round"/><line x1="1278.5" y1="1404.5" x2="1278.5" y2="1488.3" stroke="#0000ff" stroke-width="5" stroke-linecap="round"/><line x1="1275.5" y1="1434.0" x2="1275.5" y2="1488.3" stroke="#0000ff" stroke-width="8" stroke-linecap="round"/><line x1="1291.4" y1="1229.2" x2="1291.4" y2="1488.3" stroke="#0000ff" stroke-width="4.3" stroke-linecap="round"/><line x1="1290.5" y1="1303.2" x2="1290.5" y2="1488.3" stroke="#0000ff" stroke-width="6.5" stroke-linecap="round"/><line x1="1289.5" y1="1349.0" x2="1289.5" y2="1488.3" stroke="#0000ff" stroke-width="8" stroke-linecap="round"/><line x1="1321.4" y1="1027.2" x2="1321.4" y2="1488.3" stroke="#0000ff" stroke-width="4.3" stroke-linecap="round"/><line x1="1321.2" y1="1261.1" x2="1321.2" y2="1488.3" stroke="#0000ff" stroke-width="6.2" stroke-linecap="round"/><line x1="1367.5" y1="1402.1" x2="1367.5" y2="1488.3" stroke="#0000ff" stroke-width="4.2" stroke-linecap="round"/><line x1="1373.3" y1="1420.2" x2="1373.3" y2="1488.3" stroke="#0000ff" stroke-width="4.4" stroke-linecap="round"/><line x1="1399.7" y1="1318.5" x2="1399.7" y2="1488.3" stroke="#0000ff" stroke-width="5" stroke-linecap="round"/><line x1="1399.7" y1="1363.0" x2="1399.7" y2="1488.3" stroke="#0000ff" stroke-width="6" stroke-linecap="round"/><line x1="1407.9" y1="1449.2" x2="1407.9" y2="1488.3" stroke="#0000ff" stroke-width="4.5" stroke-linecap="round"/><line x1="1420.9" y1="1409.2" x2="1420.9" y2="1488.3" stroke="#0000ff" stroke-width="4.4" stroke-linecap="round"/><line x1="1435.7" y1="1287.5" x2="1435.7" y2="1488.3" stroke="#0000ff" stroke-width="5" stroke-linecap="round"/><line x1="1435.5" y1="1325.2" x2="1435.5" y2="1488.3" stroke="#0000ff" stroke-width="6.5" stroke-linecap="round"/><line x1="1494.2" y1="1426.1" x2="1494.2" y2="1488.3" stroke="#0000ff" stroke-width="4.2" stroke-linecap="round"/><line x1="1569.1" y1="1440.1" x2="1569.1" y2="1488.3" stroke="#0000ff" stroke-width="4.2" stroke-linecap="round"/><line x1="1664.3" y1="1417.1" x2="1664.3" y2="1488.3" stroke="#0000ff" stroke-width="4.2" stroke-linecap="round"/><g fill="#ff0000"><ellipse cx="1106.3" cy="1341.8" rx="6.1" ry="5.7"/><ellipse cx="1106.9" cy="1395.0" rx="6.1" ry="5.7"/><ellipse cx="1106.3" cy="1419.0" rx="6.1" ry="5.7"/><ellipse cx="1106.6" cy="1472.0" rx="6.1" ry="5.7"/><ellipse cx="1105.9" cy="1477.7" rx="6.1" ry="5.7"/><ellipse cx="1168.3" cy="1374.7" rx="6.1" ry="5.7"/><ellipse cx="1168.7" cy="1382.7" rx="6.1" ry="5.7"/><ellipse cx="1168.7" cy="1397.5" rx="6.1" ry="5.7"/><ellipse cx="1168.7" cy="1458.9" rx="6.1" ry="5.7"/><ellipse cx="1167.8" cy="1471.2" rx="6.1" ry="5.7"/><ellipse cx="1168.3" cy="1480.0" rx="6.1" ry="5.7"/><ellipse cx="1242.7" cy="1481.6" rx="6.1" ry="5.7"/><ellipse cx="1270.9" cy="1091.1" rx="6.1" ry="5.7"/><ellipse cx="1271.4" cy="1247.5" rx="6.1" ry="5.7"/><ellipse cx="1272.1" cy="1270.0" rx="6.1" ry="5.7"/><ellipse cx="1272.1" cy="1340.6" rx="6.1" ry="5.7"/><ellipse cx="1271.0" cy="1397.2" rx="6.1" ry="5.7"/><ellipse cx="1271.8" cy="1432.8" rx="6.1" ry="5.7"/><ellipse cx="1270.3" cy="1458.2" rx="6.1" ry="5.7"/><ellipse cx="1276.8" cy="1393.6" rx="6.1" ry="5.7"/><ellipse cx="1277.6" cy="1415.8" rx="6.1" ry="5.7"/><ellipse cx="1276.1" cy="1424.8" rx="6.1" ry="5.7"/><ellipse cx="1277.6" cy="1451.6" rx="6.1" ry="5.7"/><ellipse cx="1289.8" cy="1219.4" rx="6.1" ry="5.7"/><ellipse cx="1290.5" cy="1299.2" rx="6.1" ry="5.7"/><ellipse cx="1291.1" cy="1318.3" rx="6.1" ry="5.7"/><ellipse cx="1288.0" cy="1343.2" rx="6.1" ry="5.7"/><ellipse cx="1287.4" cy="1376.2" rx="6.1" ry="5.7"/><ellipse cx="1288.5" cy="1392.0" rx="6.1" ry="5.7"/><ellipse cx="1291.4" cy="1396.5" rx="6.1" ry="5.7"/><ellipse cx="1287.4" cy="1405.9" rx="6.1" ry="5.7"/><ellipse cx="1290.6" cy="1423.3" rx="6.1" ry="5.7"/><ellipse cx="1289.9" cy="1432.0" rx="6.1" ry="5.7"/><ellipse cx="1286.3" cy="1453.8" rx="6.1" ry="5.7"/><ellipse cx="1319.7" cy="1018.0" rx="6.1" ry="5.7"/><ellipse cx="1321.3" cy="1256.7" rx="6.1" ry="5.7"/><ellipse cx="1319.7" cy="1295.0" rx="6.1" ry="5.7"/><ellipse cx="1319.9" cy="1320.3" rx="6.1" ry="5.7"/><ellipse cx="1320.7" cy="1335.1" rx="6.1" ry="5.7"/><ellipse cx="1321.1" cy="1420.7" rx="6.1" ry="5.7"/><ellipse cx="1319.2" cy="1438.3" rx="6.1" ry="5.7"/><ellipse cx="1366.8" cy="1393.6" rx="6.1" ry="5.7"/><ellipse cx="1366.1" cy="1441.5" rx="6.1" ry="5.7"/><ellipse cx="1372.3" cy="1412.0" rx="6.1" ry="5.7"/><ellipse cx="1373.0" cy="1423.3" rx="6.1" ry="5.7"/><ellipse cx="1374.0" cy="1444.4" rx="6.1" ry="5.7"/><ellipse cx="1398.7" cy="1309.4" rx="6.1" ry="5.7"/><ellipse cx="1399.0" cy="1323.5" rx="6.1" ry="5.7"/><ellipse cx="1398.7" cy="1357.7" rx="6.1" ry="5.7"/><ellipse cx="1398.7" cy="1387.1" rx="6.1" ry="5.7"/><ellipse cx="1400.2" cy="1392.9" rx="6.1" ry="5.7"/><ellipse cx="1400.2" cy="1424.8" rx="6.1" ry="5.7"/><ellipse cx="1398.0" cy="1445.1" rx="6.1" ry="5.7"/><ellipse cx="1407.1" cy="1439.6" rx="6.1" ry="5.7"/><ellipse cx="1419.0" cy="1399.0" rx="6.1" ry="5.7"/><ellipse cx="1419.0" cy="1444.4" rx="6.1" ry="5.7"/><ellipse cx="1420.5" cy="1450.9" rx="6.1" ry="5.7"/><ellipse cx="1434.5" cy="1277.5" rx="6.1" ry="5.7"/><ellipse cx="1434.3" cy="1319.3" rx="6.1" ry="5.7"/><ellipse cx="1435.7" cy="1344.7" rx="6.1" ry="5.7"/><ellipse cx="1434.3" cy="1361.7" rx="6.1" ry="5.7"/><ellipse cx="1434.3" cy="1384.2" rx="6.1" ry="5.7"/><ellipse cx="1435.7" cy="1408.1" rx="6.1" ry="5.7"/><ellipse cx="1434.3" cy="1412.5" rx="6.1" ry="5.7"/><ellipse cx="1435.7" cy="1421.9" rx="6.1" ry="5.7"/><ellipse cx="1432.1" cy="1460.3" rx="6.1" ry="5.7"/><ellipse cx="1437.9" cy="1457.4" rx="6.1" ry="5.7"/><ellipse cx="1492.9" cy="1416.5" rx="6.1" ry="5.7"/><ellipse cx="1493.2" cy="1433.2" rx="6.1" ry="5.7"/><ellipse cx="1546.9" cy="1481.0" rx="6.1" ry="5.7"/><ellipse cx="1568.4" cy="1429.9" rx="6.1" ry="5.7"/><ellipse cx="1567.5" cy="1453.1" rx="6.1" ry="5.7"/><ellipse cx="1570.8" cy="1457.4" rx="6.1" ry="5.7"/><ellipse cx="1611.8" cy="1450.2" rx="6.1" ry="5.7"/><ellipse cx="1630.3" cy="1472.7" rx="6.1" ry="5.7"/><ellipse cx="1642.7" cy="1463.2" rx="6.1" ry="5.7"/><ellipse cx="1649.9" cy="1471.2" rx="6.1" ry="5.7"/><ellipse cx="1664.1" cy="1407.1" rx="6.1" ry="5.7"/><ellipse cx="1686.6" cy="1483.0" rx="6.1" ry="5.7"/><ellipse cx="1720.7" cy="1482.3" rx="6.1" ry="5.7"/><ellipse cx="1769.0" cy="1482.5" rx="6.1" ry="5.7"/><ellipse cx="1781.6" cy="1481.5" rx="6.1" ry="5.7"/><ellipse cx="1795.4" cy="1475.6" rx="6.1" ry="5.7"/><ellipse cx="1801.2" cy="1474.0" rx="6.1" ry="5.7"/><ellipse cx="1808.0" cy="1477.0" rx="6.1" ry="5.7"/><ellipse cx="1815.0" cy="1474.8" rx="6.1" ry="5.7"/><ellipse cx="1823.0" cy="1477.0" rx="6.1" ry="5.7"/><ellipse cx="1105.6" cy="1472.0" rx="6.1" ry="5.7"/><ellipse cx="1107.0" cy="1477.2" rx="6.1" ry="5.7"/><ellipse cx="1105.6" cy="1482.4" rx="6.1" ry="5.7"/><ellipse cx="1167.6" cy="1471.2" rx="6.1" ry="5.7"/><ellipse cx="1169.0" cy="1476.4" rx="6.1" ry="5.7"/><ellipse cx="1167.6" cy="1481.6" rx="6.1" ry="5.7"/><ellipse cx="1270.3" cy="1458.0" rx="6.1" ry="5.7"/><ellipse cx="1271.7" cy="1463.2" rx="6.1" ry="5.7"/><ellipse cx="1270.3" cy="1468.4" rx="6.1" ry="5.7"/><ellipse cx="1271.7" cy="1473.6" rx="6.1" ry="5.7"/><ellipse cx="1268.8" cy="1478.8" rx="6.1" ry="5.7"/><ellipse cx="1272.5" cy="1480.0" rx="6.1" ry="5.7"/><ellipse cx="1268.0" cy="1484.0" rx="6.1" ry="5.7"/><ellipse cx="1274.7" cy="1485.2" rx="6.1" ry="5.7"/><ellipse cx="1276.9" cy="1451.6" rx="6.1" ry="5.7"/><ellipse cx="1278.3" cy="1456.8" rx="6.1" ry="5.7"/><ellipse cx="1276.9" cy="1462.0" rx="6.1" ry="5.7"/><ellipse cx="1278.3" cy="1467.2" rx="6.1" ry="5.7"/><ellipse cx="1276.9" cy="1472.4" rx="6.1" ry="5.7"/><ellipse cx="1276.3" cy="1477.6" rx="6.1" ry="5.7"/><ellipse cx="1279.6" cy="1478.8" rx="6.1" ry="5.7"/><ellipse cx="1274.6" cy="1482.8" rx="6.1" ry="5.7"/><ellipse cx="1279.9" cy="1484.0" rx="6.1" ry="5.7"/><ellipse cx="1287.3" cy="1453.8" rx="6.1" ry="5.7"/><ellipse cx="1288.7" cy="1459.0" rx="6.1" ry="5.7"/><ellipse cx="1287.3" cy="1464.2" rx="6.1" ry="5.7"/><ellipse cx="1288.7" cy="1469.4" rx="6.1" ry="5.7"/><ellipse cx="1286.2" cy="1474.6" rx="6.1" ry="5.7"/><ellipse cx="1289.1" cy="1475.8" rx="6.1" ry="5.7"/><ellipse cx="1285.7" cy="1479.8" rx="6.1" ry="5.7"/><ellipse cx="1291.0" cy="1481.0" rx="6.1" ry="5.7"/><ellipse cx="1283.4" cy="1485.0" rx="6.1" ry="5.7"/><ellipse cx="1291.9" cy="1486.2" rx="6.1" ry="5.7"/><ellipse cx="1319.8" cy="1464.0" rx="6.1" ry="5.7"/><ellipse cx="1321.2" cy="1469.2" rx="6.1" ry="5.7"/><ellipse cx="1319.8" cy="1474.4" rx="6.1" ry="5.7"/><ellipse cx="1319.3" cy="1479.6" rx="6.1" ry="5.7"/><ellipse cx="1322.4" cy="1480.8" rx="6.1" ry="5.7"/><ellipse cx="1316.8" cy="1484.8" rx="6.1" ry="5.7"/><ellipse cx="1323.5" cy="1486.0" rx="6.1" ry="5.7"/><ellipse cx="1365.3" cy="1441.5" rx="6.1" ry="5.7"/><ellipse cx="1366.7" cy="1446.7" rx="6.1" ry="5.7"/><ellipse cx="1365.3" cy="1451.9" rx="6.1" ry="5.7"/><ellipse cx="1366.7" cy="1457.1" rx="6.1" ry="5.7"/><ellipse cx="1365.3" cy="1462.3" rx="6.1" ry="5.7"/><ellipse cx="1366.7" cy="1467.5" rx="6.1" ry="5.7"/><ellipse cx="1364.4" cy="1472.7" rx="6.1" ry="5.7"/><ellipse cx="1366.9" cy="1473.9" rx="6.1" ry="5.7"/><ellipse cx="1364.5" cy="1477.9" rx="6.1" ry="5.7"/><ellipse cx="1368.2" cy="1479.1" rx="6.1" ry="5.7"/><ellipse cx="1363.1" cy="1483.1" rx="6.1" ry="5.7"/><ellipse cx="1368.2" cy="1484.3" rx="6.1" ry="5.7"/><ellipse cx="1372.8" cy="1444.4" rx="6.1" ry="5.7"/><ellipse cx="1374.2" cy="1449.6" rx="6.1" ry="5.7"/><ellipse cx="1372.8" cy="1454.8" rx="6.1" ry="5.7"/><ellipse cx="1374.2" cy="1460.0" rx="6.1" ry="5.7"/><ellipse cx="1372.8" cy="1465.2" rx="6.1" ry="5.7"/><ellipse cx="1374.2" cy="1470.4" rx="6.1" ry="5.7"/><ellipse cx="1371.7" cy="1475.6" rx="6.1" ry="5.7"/><ellipse cx="1374.6" cy="1476.8" rx="6.1" ry="5.7"/><ellipse cx="1371.7" cy="1480.8" rx="6.1" ry="5.7"/><ellipse cx="1376.0" cy="1482.0" rx="6.1" ry="5.7"/><ellipse cx="1370.1" cy="1486.0" rx="6.1" ry="5.7"/><ellipse cx="1376.2" cy="1487.2" rx="6.1" ry="5.7"/><ellipse cx="1397.8" cy="1445.0" rx="6.1" ry="5.7"/><ellipse cx="1399.2" cy="1450.2" rx="6.1" ry="5.7"/><ellipse cx="1397.8" cy="1455.4" rx="6.1" ry="5.7"/><ellipse cx="1399.2" cy="1460.6" rx="6.1" ry="5.7"/><ellipse cx="1397.8" cy="1465.8" rx="6.1" ry="5.7"/><ellipse cx="1399.2" cy="1471.0" rx="6.1" ry="5.7"/><ellipse cx="1396.2" cy="1476.2" rx="6.1" ry="5.7"/><ellipse cx="1400.1" cy="1477.4" rx="6.1" ry="5.7"/><ellipse cx="1396.0" cy="1481.4" rx="6.1" ry="5.7"/><ellipse cx="1401.7" cy="1482.6" rx="6.1" ry="5.7"/><ellipse cx="1405.8" cy="1459.6" rx="6.1" ry="5.7"/><ellipse cx="1407.2" cy="1464.8" rx="6.1" ry="5.7"/><ellipse cx="1405.8" cy="1470.0" rx="6.1" ry="5.7"/><ellipse cx="1407.2" cy="1475.2" rx="6.1" ry="5.7"/><ellipse cx="1404.4" cy="1480.4" rx="6.1" ry="5.7"/><ellipse cx="1407.9" cy="1481.6" rx="6.1" ry="5.7"/><ellipse cx="1403.8" cy="1485.6" rx="6.1" ry="5.7"/><ellipse cx="1409.9" cy="1486.8" rx="6.1" ry="5.7"/><ellipse cx="1419.1" cy="1464.0" rx="6.1" ry="5.7"/><ellipse cx="1420.5" cy="1469.2" rx="6.1" ry="5.7"/><ellipse cx="1419.1" cy="1474.4" rx="6.1" ry="5.7"/><ellipse cx="1420.5" cy="1479.6" rx="6.1" ry="5.7"/><ellipse cx="1417.1" cy="1484.8" rx="6.1" ry="5.7"/><ellipse cx="1421.8" cy="1486.0" rx="6.1" ry="5.7"/><ellipse cx="1431.8" cy="1460.3" rx="6.1" ry="5.7"/><ellipse cx="1433.2" cy="1465.5" rx="6.1" ry="5.7"/><ellipse cx="1431.8" cy="1470.7" rx="6.1" ry="5.7"/><ellipse cx="1433.2" cy="1475.9" rx="6.1" ry="5.7"/><ellipse cx="1430.8" cy="1481.1" rx="6.1" ry="5.7"/><ellipse cx="1433.5" cy="1482.3" rx="6.1" ry="5.7"/><ellipse cx="1436.8" cy="1457.4" rx="6.1" ry="5.7"/><ellipse cx="1438.2" cy="1462.6" rx="6.1" ry="5.7"/><ellipse cx="1436.8" cy="1467.8" rx="6.1" ry="5.7"/><ellipse cx="1438.2" cy="1473.0" rx="6.1" ry="5.7"/><ellipse cx="1435.7" cy="1478.2" rx="6.1" ry="5.7"/><ellipse cx="1438.6" cy="1479.4" rx="6.1" ry="5.7"/><ellipse cx="1435.3" cy="1483.4" rx="6.1" ry="5.7"/><ellipse cx="1440.4" cy="1484.6" rx="6.1" ry="5.7"/><ellipse cx="1453.9" cy="1459.6" rx="6.1" ry="5.7"/><ellipse cx="1455.3" cy="1464.8" rx="6.1" ry="5.7"/><ellipse cx="1453.9" cy="1470.0" rx="6.1" ry="5.7"/><ellipse cx="1455.3" cy="1475.2" rx="6.1" ry="5.7"/><ellipse cx="1453.0" cy="1480.4" rx="6.1" ry="5.7"/><ellipse cx="1455.5" cy="1481.6" rx="6.1" ry="5.7"/><ellipse cx="1452.6" cy="1485.6" rx="6.1" ry="5.7"/><ellipse cx="1457.3" cy="1486.8" rx="6.1" ry="5.7"/><ellipse cx="1492.8" cy="1448.0" rx="6.1" ry="5.7"/><ellipse cx="1494.2" cy="1453.2" rx="6.1" ry="5.7"/><ellipse cx="1492.8" cy="1458.4" rx="6.1" ry="5.7"/><ellipse cx="1494.2" cy="1463.6" rx="6.1" ry="5.7"/><ellipse cx="1492.8" cy="1468.8" rx="6.1" ry="5.7"/><ellipse cx="1492.6" cy="1474.0" rx="6.1" ry="5.7"/><ellipse cx="1495.1" cy="1475.2" rx="6.1" ry="5.7"/><ellipse cx="1491.1" cy="1479.2" rx="6.1" ry="5.7"/><ellipse cx="1495.2" cy="1480.4" rx="6.1" ry="5.7"/><ellipse cx="1490.8" cy="1484.4" rx="6.1" ry="5.7"/><ellipse cx="1496.9" cy="1485.6" rx="6.1" ry="5.7"/><ellipse cx="1567.8" cy="1462.0" rx="6.1" ry="5.7"/><ellipse cx="1569.2" cy="1467.2" rx="6.1" ry="5.7"/><ellipse cx="1567.8" cy="1472.4" rx="6.1" ry="5.7"/><ellipse cx="1569.2" cy="1477.6" rx="6.1" ry="5.7"/><ellipse cx="1566.0" cy="1482.8" rx="6.1" ry="5.7"/><ellipse cx="1570.3" cy="1484.0" rx="6.1" ry="5.7"/><ellipse cx="1593.1" cy="1456.7" rx="6.1" ry="5.7"/><ellipse cx="1594.5" cy="1461.9" rx="6.1" ry="5.7"/><ellipse cx="1593.1" cy="1467.1" rx="6.1" ry="5.7"/><ellipse cx="1594.5" cy="1472.3" rx="6.1" ry="5.7"/><ellipse cx="1591.9" cy="1477.5" rx="6.1" ry="5.7"/><ellipse cx="1595.0" cy="1478.7" rx="6.1" ry="5.7"/><ellipse cx="1591.4" cy="1482.7" rx="6.1" ry="5.7"/><ellipse cx="1596.9" cy="1483.9" rx="6.1" ry="5.7"/><ellipse cx="1611.5" cy="1465.4" rx="6.1" ry="5.7"/><ellipse cx="1612.9" cy="1470.6" rx="6.1" ry="5.7"/><ellipse cx="1611.5" cy="1475.8" rx="6.1" ry="5.7"/><ellipse cx="1610.9" cy="1481.0" rx="6.1" ry="5.7"/><ellipse cx="1614.2" cy="1482.2" rx="6.1" ry="5.7"/><ellipse cx="1608.3" cy="1486.2" rx="6.1" ry="5.7"/><ellipse cx="1615.4" cy="1487.4" rx="6.1" ry="5.7"/><ellipse cx="1629.6" cy="1472.7" rx="6.1" ry="5.7"/><ellipse cx="1631.0" cy="1477.9" rx="6.1" ry="5.7"/><ellipse cx="1628.7" cy="1483.1" rx="6.1" ry="5.7"/><ellipse cx="1631.2" cy="1484.3" rx="6.1" ry="5.7"/><ellipse cx="1642.0" cy="1463.2" rx="6.1" ry="5.7"/><ellipse cx="1643.4" cy="1468.4" rx="6.1" ry="5.7"/><ellipse cx="1642.0" cy="1473.6" rx="6.1" ry="5.7"/><ellipse cx="1643.4" cy="1478.8" rx="6.1" ry="5.7"/><ellipse cx="1640.5" cy="1484.0" rx="6.1" ry="5.7"/><ellipse cx="1644.2" cy="1485.2" rx="6.1" ry="5.7"/><ellipse cx="1649.2" cy="1471.2" rx="6.1" ry="5.7"/><ellipse cx="1650.6" cy="1476.4" rx="6.1" ry="5.7"/><ellipse cx="1649.2" cy="1481.6" rx="6.1" ry="5.7"/><ellipse cx="1664.1" cy="1427.7" rx="6.1" ry="5.7"/><ellipse cx="1665.5" cy="1432.9" rx="6.1" ry="5.7"/><ellipse cx="1664.1" cy="1438.1" rx="6.1" ry="5.7"/><ellipse cx="1665.5" cy="1443.3" rx="6.1" ry="5.7"/><ellipse cx="1664.1" cy="1448.5" rx="6.1" ry="5.7"/><ellipse cx="1665.5" cy="1453.7" rx="6.1" ry="5.7"/><ellipse cx="1664.1" cy="1458.9" rx="6.1" ry="5.7"/><ellipse cx="1663.8" cy="1464.1" rx="6.1" ry="5.7"/><ellipse cx="1666.5" cy="1465.3" rx="6.1" ry="5.7"/><ellipse cx="1662.6" cy="1469.3" rx="6.1" ry="5.7"/><ellipse cx="1666.3" cy="1470.5" rx="6.1" ry="5.7"/><ellipse cx="1662.6" cy="1474.5" rx="6.1" ry="5.7"/><ellipse cx="1667.7" cy="1475.7" rx="6.1" ry="5.7"/><ellipse cx="1661.1" cy="1479.7" rx="6.1" ry="5.7"/><ellipse cx="1667.8" cy="1480.9" rx="6.1" ry="5.7"/><ellipse cx="1660.8" cy="1484.9" rx="6.1" ry="5.7"/><ellipse cx="1669.5" cy="1486.1" rx="6.1" ry="5.7"/><ellipse cx="1737.4" cy="1469.0" rx="6.1" ry="5.7"/><ellipse cx="1738.8" cy="1474.2" rx="6.1" ry="5.7"/><ellipse cx="1737.4" cy="1479.4" rx="6.1" ry="5.7"/><ellipse cx="1736.7" cy="1484.6" rx="6.1" ry="5.7"/><ellipse cx="1740.2" cy="1485.8" rx="6.1" ry="5.7"/><ellipse cx="1745.8" cy="1455.3" rx="6.1" ry="5.7"/><ellipse cx="1747.2" cy="1460.5" rx="6.1" ry="5.7"/><ellipse cx="1745.8" cy="1465.7" rx="6.1" ry="5.7"/><ellipse cx="1747.2" cy="1470.9" rx="6.1" ry="5.7"/><ellipse cx="1744.9" cy="1476.1" rx="6.1" ry="5.7"/><ellipse cx="1747.4" cy="1477.3" rx="6.1" ry="5.7"/><ellipse cx="1744.7" cy="1481.3" rx="6.1" ry="5.7"/><ellipse cx="1749.0" cy="1482.5" rx="6.1" ry="5.7"/><ellipse cx="1757.0" cy="1464.0" rx="6.1" ry="5.7"/><ellipse cx="1758.4" cy="1469.2" rx="6.1" ry="5.7"/><ellipse cx="1757.0" cy="1474.4" rx="6.1" ry="5.7"/><ellipse cx="1758.4" cy="1479.6" rx="6.1" ry="5.7"/><ellipse cx="1755.0" cy="1484.8" rx="6.1" ry="5.7"/><ellipse cx="1759.7" cy="1486.0" rx="6.1" ry="5.7"/></g><rect x="1050.8" y="971.7" width="777.0" height="564.4" fill="none" stroke="#000" stroke-width="4" stroke-linejoin="round"/><rect x="1050.0" y="1482.9" width="778.4" height="10.8" fill="#ff0000"/><line x1="1106.3" y1="1536.1" x2="1106.3" y2="1530.7" stroke="#000" stroke-width="4" stroke-linecap="round"/><line x1="1161.8" y1="1536.1" x2="1161.8" y2="1524.5" stroke="#000" stroke-width="4" stroke-linecap="round"/><line x1="1217.3" y1="1536.1" x2="1217.3" y2="1530.7" stroke="#000" stroke-width="4" stroke-linecap="round"/><line x1="1272.8" y1="1536.1" x2="1272.8" y2="1524.5" stroke="#000" stroke-width="4" stroke-linecap="round"/><line x1="1328.3" y1="1536.1" x2="1328.3" y2="1530.7" stroke="#000" stroke-width="4" stroke-linecap="round"/><line x1="1383.8" y1="1536.1" x2="1383.8" y2="1524.5" stroke="#000" stroke-width="4" stroke-linecap="round"/><line x1="1439.3" y1="1536.1" x2="1439.3" y2="1530.7" stroke="#000" stroke-width="4" stroke-linecap="round"/><line x1="1494.8" y1="1536.1" x2="1494.8" y2="1524.5" stroke="#000" stroke-width="4" stroke-linecap="round"/><line x1="1550.3" y1="1536.1" x2="1550.3" y2="1530.7" stroke="#000" stroke-width="4" stroke-linecap="round"/><line x1="1605.8" y1="1536.1" x2="1605.8" y2="1524.5" stroke="#000" stroke-width="4" stroke-linecap="round"/><line x1="1661.3" y1="1536.1" x2="1661.3" y2="1530.7" stroke="#000" stroke-width="4" stroke-linecap="round"/><line x1="1716.8" y1="1536.1" x2="1716.8" y2="1524.5" stroke="#000" stroke-width="4" stroke-linecap="round"/><line x1="1772.3" y1="1536.1" x2="1772.3" y2="1530.7" stroke="#000" stroke-width="4" stroke-linecap="round"/><text x="1049.3" y="1577.1" class="sb" font-size="35" text-anchor="middle">10</text><text x="1160.3" y="1577.1" class="sb" font-size="35" text-anchor="middle">20</text><text x="1271.3" y="1577.1" class="sb" font-size="35" text-anchor="middle">30</text><text x="1382.3" y="1577.1" class="sb" font-size="35" text-anchor="middle">40</text><text x="1493.3" y="1577.1" class="sb" font-size="35" text-anchor="middle">50</text><text x="1604.3" y="1577.1" class="sb" font-size="35" text-anchor="middle">60</text><text x="1715.3" y="1577.1" class="sb" font-size="35" text-anchor="middle">70</text><text x="1826.3" y="1577.1" class="sb" font-size="35" text-anchor="middle">80</text><text x="1348.6" y="1638.1" class="sb" font-size="35.6" textLength="180.8" lengthAdjust="spacingAndGlyphs">2theta(Deg)</text><text transform="translate(1017.6,1387.2) rotate(-90)" class="sb" font-size="35" textLength="219.4" lengthAdjust="spacingAndGlyphs">Intensity(a.u.)</text><rect x="1591.6" y="972.3" width="234.4" height="58.4" fill="#fff" stroke="#222" stroke-width="1.4"/><text x="1613.2" y="1013.8" class="sb" font-size="34.6" textLength="86.4" lengthAdjust="spacingAndGlyphs">AuSn</text><text x="1699.8" y="1024.4" class="sb" font-size="21">4</text><text x="1712.4" y="1013.8" class="sb" font-size="34.6" textLength="102.8" lengthAdjust="spacingAndGlyphs">(Aea2)</text></g>
</svg></body></html>
